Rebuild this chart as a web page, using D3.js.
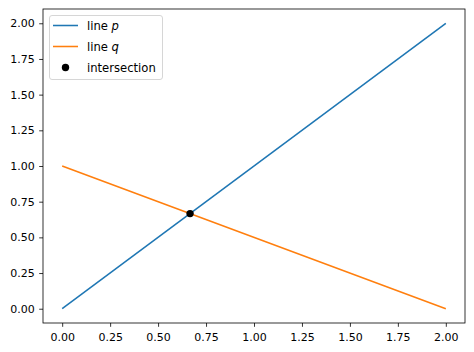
<!DOCTYPE html>
<html><head><meta charset="utf-8">
<script src="https://cdn.jsdelivr.net/npm/d3@7"></script>
<style>body{margin:0;background:#fff}svg{display:block}text{font-family:"DejaVu Sans",sans-serif}</style>
</head><body>
<script>
const xs = [0, 2];
const lineP = [0, 2];
const lineQ = [1, 0];
const intersection = [[2/3, 2/3]];
const xTicks = [0, 0.25, 0.5, 0.75, 1.0, 1.25, 1.5, 1.75, 2.0];
const yTicks = [0, 0.25, 0.5, 0.75, 1.0, 1.25, 1.5, 1.75, 2.0];
const legendItems = [
  {name: "line ", it: "p", color: "#1f77b4", type: "line"},
  {name: "line ", it: "q", color: "#ff7f0e", type: "line"},
  {name: "intersection", it: "", color: "#000", type: "dot"}
];

const W = 474, H = 352;
const m = {l: 43, r: 9, t: 9, b: 29};
const FS = 11;
const svg = d3.select("body").append("svg").attr("width", W).attr("height", H);
const x = d3.scaleLinear().domain([-0.1, 2.1]).range([m.l, W - m.r]);
const y = d3.scaleLinear().domain([-0.1, 2.1]).range([H - m.b, m.t]);

const fmt = d3.format(".2f");
const ax = svg.append("g").attr("transform", `translate(0,${H - m.b})`)
  .call(d3.axisBottom(x).tickValues(xTicks).tickFormat(fmt).tickSize(3.8).tickPadding(6));
const ay = svg.append("g").attr("transform", `translate(${m.l},0)`)
  .call(d3.axisLeft(y).tickValues(yTicks).tickFormat(fmt).tickSize(3.8).tickPadding(4.5));
[ax, ay].forEach(g => {
  g.select(".domain").remove();
  g.selectAll("line").attr("stroke", "#000").attr("stroke-width", 0.8);
  g.selectAll("text").attr("font-size", FS).attr("fill", "#000").attr("font-family", "DejaVu Sans");
});

const line = d3.line().x(d => x(d[0])).y(d => y(d[1]));
svg.append("path").datum(xs.map((v, i) => [v, lineP[i]])).attr("d", line)
  .attr("fill", "none").attr("stroke", "#1f77b4").attr("stroke-width", 1.55);
svg.append("path").datum(xs.map((v, i) => [v, lineQ[i]])).attr("d", line)
  .attr("fill", "none").attr("stroke", "#ff7f0e").attr("stroke-width", 1.55);
svg.selectAll("circle.pt").data(intersection).join("circle").attr("class", "pt")
  .attr("cx", d => x(d[0])).attr("cy", d => y(d[1])).attr("r", 3.7).attr("fill", "#000");

svg.append("rect").attr("x", m.l).attr("y", m.t).attr("width", W - m.l - m.r).attr("height", H - m.t - m.b)
  .attr("fill", "none").attr("stroke", "#000").attr("stroke-width", 0.8);

const lg = svg.append("g");
lg.append("rect").attr("x", 49.5).attr("y", 15.5).attr("width", 113).attr("height", 64).attr("rx", 2.5)
  .attr("fill", "#fff").attr("fill-opacity", 0.8).attr("stroke", "#ccc").attr("stroke-width", 0.8);
legendItems.forEach((d, i) => {
  const cy = 25.5 + i * 21;
  if (d.type === "line") {
    lg.append("line").attr("x1", 53).attr("x2", 78).attr("y1", cy).attr("y2", cy)
      .attr("stroke", d.color).attr("stroke-width", 1.55);
  } else {
    lg.append("circle").attr("cx", 65.5).attr("cy", cy).attr("r", 3.7).attr("fill", d.color);
  }
  const t = lg.append("text").attr("x", 87).attr("y", cy).attr("dy", "0.35em").attr("font-size", 11.6).attr("fill", "#000");
  t.append("tspan").text(d.name);
  if (d.it) t.append("tspan").attr("font-style", "italic").text(d.it);
});
</script>
</body></html>
